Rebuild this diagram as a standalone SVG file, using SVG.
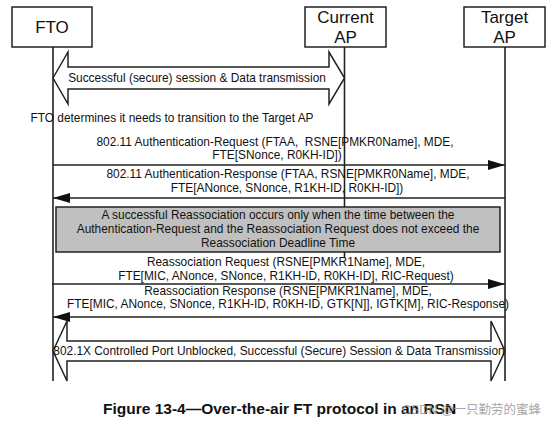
<svg xmlns="http://www.w3.org/2000/svg" width="554" height="426" viewBox="0 0 554 426">
<style>
.box{fill:#fff;stroke:#222;stroke-width:1.5}
.life{stroke:#222;stroke-width:1.6;fill:none}
.msg{stroke:#222;stroke-width:1.5;fill:none}
.big{fill:#fff;stroke:#222;stroke-width:1.5}
.t{font-family:"Liberation Sans",Arial,sans-serif;font-size:11.9px;fill:#111;text-anchor:middle}
.h{font-family:"Liberation Sans",Arial,sans-serif;font-size:17px;fill:#111;text-anchor:middle}
.cap{font-family:"Liberation Sans",Arial,sans-serif;font-size:15.5px;font-weight:bold;fill:#111}
.wm{font-family:"Liberation Sans","Noto Sans CJK SC",sans-serif;font-size:12.5px;fill:#999;opacity:0.85}
</style>
<defs>
<marker id="ah" viewBox="0 0 17 10" refX="17" refY="5" markerWidth="17" markerHeight="10" markerUnits="userSpaceOnUse" orient="auto">
<path d="M0,0 L17,5 L0,10 Z" fill="#111"/>
</marker>
</defs>
<rect width="554" height="426" fill="#fff"/>
<g id="connectors">
<line class="life" x1="53" y1="47" x2="53" y2="381"/>
<line class="life" x1="344.5" y1="47" x2="344.5" y2="207"/>
<line class="life" x1="344.5" y1="252" x2="344.5" y2="258"/>
<line class="life" x1="505" y1="47" x2="505" y2="381"/>
<polygon class="big" points="53,78 68,52 68,67 329,67 329,52 344.5,78 329,104 329,89 68,89 68,104"/>
<text class="t" x="197" y="82">Successful (secure) session &amp; Data transmission</text>
<line class="msg" x1="53" y1="165" x2="505" y2="165" marker-end="url(#ah)"/>
<line class="msg" x1="505" y1="198" x2="53" y2="198" marker-end="url(#ah)"/>
<line class="msg" x1="52" y1="284" x2="505" y2="284" marker-end="url(#ah)"/>
<line class="msg" x1="505" y1="317" x2="53" y2="317" marker-end="url(#ah)"/>
<polygon class="big" points="53,351 67,321 67,341 491,341 491,321 505,351 491,381 491,361 67,361 67,381"/>
<text class="t" x="279" y="355">802.1X Controlled Port Unblocked, Successful (Secure) Session &amp; Data Transmission</text>
</g>
<g id="fto">
<rect class="box" x="12" y="7" width="80" height="40"/>
<text class="h" x="52" y="33">FTO</text>
</g>
<g id="current-ap">
<rect class="box" x="305" y="7" width="81" height="40"/>
<text class="h" x="345.5" y="23">Current</text>
<text class="h" x="345.5" y="43">AP</text>
</g>
<g id="target-ap">
<rect class="box" x="464" y="7" width="81" height="40"/>
<text class="h" x="504.5" y="23">Target</text>
<text class="h" x="504.5" y="43">AP</text>
</g>
<g id="labels">
<text class="t" x="172" y="122">FTO determines it needs to transition to the Target AP</text>
<text class="t" x="275" y="146" xml:space="preserve">802.11 Authentication-Request (FTAA,  RSNE[PMKR0Name], MDE,</text>
<text class="t" x="277" y="159">FTE[SNonce, R0KH-ID])</text>
<text class="t" x="288" y="178">802.11 Authentication-Response (FTAA, RSNE[PMKR0Name], MDE,</text>
<text class="t" x="287" y="192">FTE[ANonce, SNonce, R1KH-ID, R0KH-ID])</text>
<text class="t" x="286" y="266">Reassociation Request (RSNE[PMKR1Name], MDE,</text>
<text class="t" x="286" y="280">FTE[MIC, ANonce, SNonce, R1KH-ID, R0KH-ID], RIC-Request)</text>
<text class="t" x="288" y="295">Reassociation Response (RSNE[PMKR1Name], MDE,</text>
<text class="t" x="288" y="308">FTE[MIC, ANonce, SNonce, R1KH-ID, R0KH-ID, GTK[N]], IGTK[M], RIC-Response)</text>
</g>
<g id="deadline-note">
<rect x="56" y="207" width="444" height="45" fill="#c0c0c0" stroke="#222" stroke-width="1.5"/>
<text class="t" x="278" y="219">A successful Reassociation occurs only when the time between the</text>
<text class="t" x="278" y="233">Authentication-Request and the Reassociation Request does not exceed the</text>
<text class="t" x="278" y="247">Reassociation Deadline Time</text>
</g>
<g id="caption">
<text class="cap" x="103" y="414">Figure 13-4—Over-the-air FT protocol in an RSN</text>
<text class="wm" x="402" y="414">CSDN @一只勤劳的蜜蜂</text>
</g>
</svg>
